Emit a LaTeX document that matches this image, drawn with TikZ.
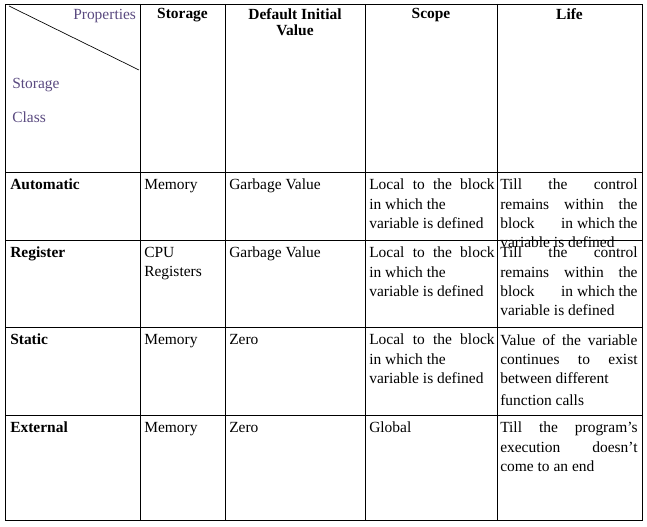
\documentclass[tikz,border=0pt]{standalone}
\usepackage{fontspec}
\setmainfont{Liberation Serif}
\definecolor{prop}{HTML}{5A4A80}
\newcommand{\jl}[1]{\hbox to 103pt{#1}}
\newcommand{\scl}[1]{\hbox to 94pt{#1}}
\begin{document}
\begin{tikzpicture}[x=0.75pt,y=-0.75pt,
  cell/.style={anchor=north west,inner sep=0pt,font=\fontsize{11.6}{14.3}\selectfont,align=left},
  hd/.style={anchor=north,inner sep=0pt,font=\fontsize{11.6}{12.5}\selectfont\bfseries,align=center},
  pl/.style={anchor=base west,inner sep=0pt,font=\fontsize{11.6}{12}\selectfont,text=prop}]
\useasboundingbox (0,0) rectangle (647,527);
\draw[line width=0.6pt] (5,4) rectangle (642,520);
\foreach \x in {140,225,365,497} \draw[line width=0.6pt] (\x,4) -- (\x,520);
\foreach \y in {172,240,327,415} \draw[line width=0.6pt] (5,\y) -- (642,\y);
\draw[line width=0.5pt] (9,6) -- (139,70);
\node[pl] (p) at (73,20) {Properties};
\node[pl] (s) at (12,89) {Storage};
\node[pl] (c) at (12,123) {Class};
\node[hd] (h1) at (182.5,8) {Storage};
\node[hd] (h2) at (295,8) {Default Initial\\Value};
\node[hd] (h3) at (431,8) {Scope};
\node[hd] (h4) at (569.5,8) {Life};
\foreach \r/\y/\a/\b/\c/\d in {
 1/179/{\textbf{Automatic}}/{Memory}/{Garbage Value}/{\jl{Till\hfill the\hfill control}\\\jl{remains\hfill within\hfill the}\\\jl{block\hfill in which the}\\variable is defined},
 2/247/{\textbf{Register}}/{CPU\\Registers}/{Garbage Value}/{\jl{Till\hfill the\hfill control}\\\jl{remains\hfill within\hfill the}\\\jl{block\hfill in which the}\\variable is defined},
 3/334/{\textbf{Static}}/{Memory}/{Zero}/{\jl{Value of the variable}\\\jl{continues\hfill to\hfill exist}\\between different\\[2pt] function calls},
 4/422/{\textbf{External}}/{Memory}/{Zero}/{\jl{Till\hfill the\hfill program's}\\\jl{execution\hfill doesn't}\\come to an end}}{
 \node[cell] (a\r) at (10,\y) {\a};
 \node[cell] (b\r) at (144,\y) {\b};
 \node[cell] (c\r) at (229,\y) {\c};
 \node[cell] (e\r) at (500,\y) {\d};
}
\foreach \r/\y in {1/179,2/247,3/334}
 \node[cell] (d\r) at (369,\y) {\scl{Local\hfill to\hfill the\hfill block}\\in which the\\variable is defined};
\node[cell] (d4) at (369,422) {Global};
\end{tikzpicture}
\end{document}
